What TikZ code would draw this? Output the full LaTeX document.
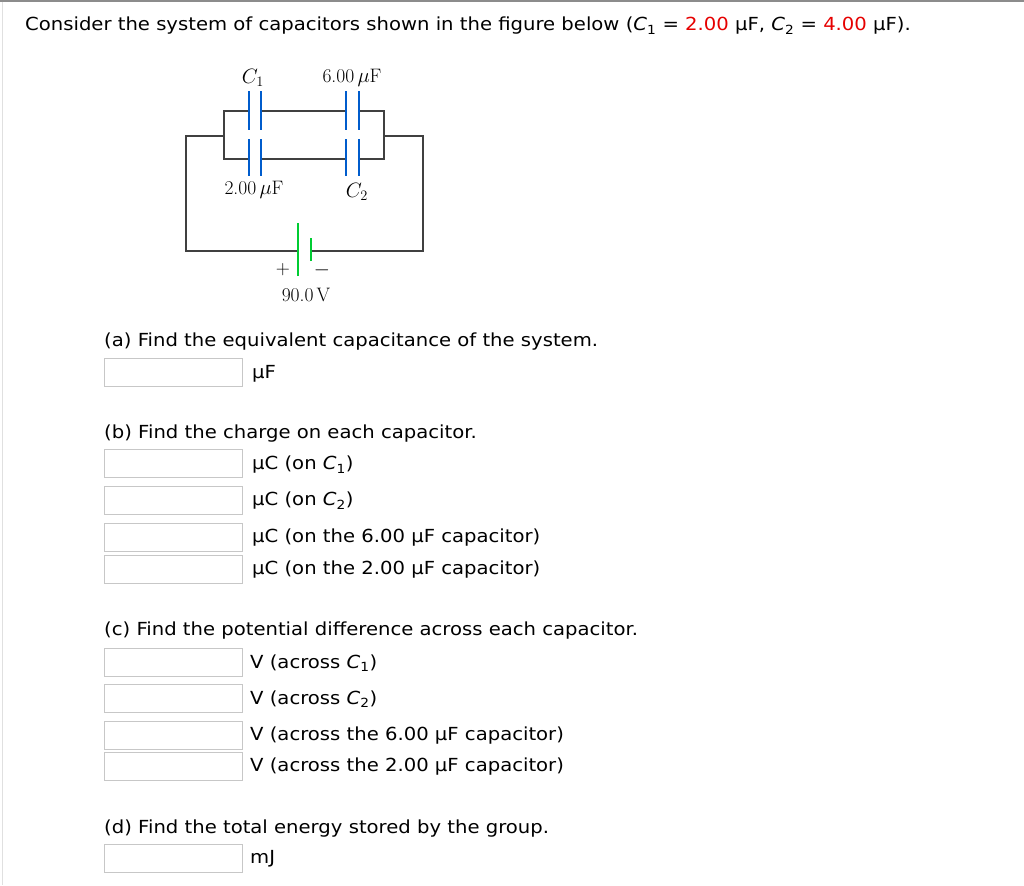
\documentclass[tikz,border=0pt]{standalone}
\usepackage{fontspec}
\setmainfont{DejaVu Sans}[FakeStretch=1.09]
\newfontfamily\cirf{Latin Modern Roman}
\begin{document}
\begin{tikzpicture}[x=1pt,y=-1pt,
  txt/.style={anchor=west,inner sep=0pt,font=\fontsize{18}{20}\selectfont},
  lab/.style={inner sep=0pt,font=\cirf\fontsize{19.5}{21}\selectfont},
  box/.style={draw=black!22,line width=1pt,minimum width=138pt,minimum height=28pt,anchor=north west,inner sep=0pt},
  wire/.style={draw=black!75,line width=1.2pt},
  cplate/.style={draw=blue!55!cyan!80!black,line width=2.2pt},
  bplate/.style={draw=green!60!teal,line width=2.2pt}]
\definecolor{qred}{RGB}{230,0,0}
\useasboundingbox (0,0) rectangle (1024,885);
\fill[white] (0,0) rectangle (1024,885);
\draw[black!45,line width=2pt] (0,1) -- (1024,1);
\draw[black!12,line width=1pt] (2,2) -- (2,885);
\node[txt] (title) at (25,26) {Consider the system of capacitors shown in the figure below (\textit{C}\textsubscript{1} = \textcolor{qred}{2.00} μF, \textit{C}\textsubscript{2} = \textcolor{qred}{4.00} μF).};
% circuit coordinates
\coordinate (iTL) at (224,111); \coordinate (iTR) at (384,111);
\coordinate (iBL) at (224,159); \coordinate (iBR) at (384,159);
\coordinate (iLm) at (224,136); \coordinate (iRm) at (384,136);
\coordinate (oTL) at (186,136); \coordinate (oTR) at (423,136);
\coordinate (oBL) at (186,251); \coordinate (oBR) at (423,251);
\coordinate (a1) at (249,111); \coordinate (a2) at (261,111);
\coordinate (b1) at (346,111); \coordinate (b2) at (359,111);
\coordinate (c1) at (249,159); \coordinate (c2) at (261,159);
\coordinate (d1) at (346,159); \coordinate (d2) at (359,159);
\coordinate (e1) at (298,251); \coordinate (e2) at (311,251);
\draw[wire] (a1) -- (iTL) -- (iBL) -- (c1);
\draw[wire] (a2) -- (b1); \draw[wire] (c2) -- (d1);
\draw[wire] (b2) -- (iTR) -- (iBR) -- (d2);
\draw[wire] (iLm) -- (oTL) -- (oBL) -- (e1);
\draw[wire] (iRm) -- (oTR) -- (oBR) -- (e2);
\foreach \p in {a1,a2,b1,b2}{\draw[cplate] ([yshift=-19]\p) -- ([yshift=20]\p);}
\foreach \p in {c1,c2,d1,d2}{\draw[cplate] ([yshift=-17]\p) -- ([yshift=20]\p);}
\draw[bplate] ([yshift=-25]e1) -- ([yshift=28]e1);
\draw[bplate] ([yshift=-10]e2) -- ([yshift=13]e2);
\node[lab] (lC1) at (253,78) {$C_1$};
\node[lab] (l6) at (352,78) {6.00\,$\mu$F};
\node[lab] (l2) at (254,190) {2.00\,$\mu$F};
\node[lab] (lC2) at (357,192) {$C_2$};
\node[lab] (lp) at (283,270) {+};
\node[lab] (lm) at (322,270) {$-$};
\node[lab] (lV) at (306,295) {90.0\,V};
% questions
\node[txt] (qa) at (104,342) {(a) Find the equivalent capacitance of the system.};
\node[box] (ba) at (104,358) {}; \node[txt] (ua) at (252,374) {μF};
\node[txt] (qb) at (104,434) {(b) Find the charge on each capacitor.};
\node[box] (bb1) at (104,449) {}; \node[txt] at (252,465) {μC (on \textit{C}\textsubscript{1})};
\node[box] (bb2) at (104,486) {}; \node[txt] at (252,501) {μC (on \textit{C}\textsubscript{2})};
\node[box] (bb3) at (104,523) {}; \node[txt] at (252,538) {μC (on the 6.00 μF capacitor)};
\node[box] (bb4) at (104,555) {}; \node[txt] at (252,570) {μC (on the 2.00 μF capacitor)};
\node[txt] (qc) at (104,631) {(c) Find the potential difference across each capacitor.};
\node[box] (bc1) at (104,648) {}; \node[txt] at (250,663) {V (across \textit{C}\textsubscript{1})};
\node[box] (bc2) at (104,684) {}; \node[txt] at (250,699) {V (across \textit{C}\textsubscript{2})};
\node[box] (bc3) at (104,721) {}; \node[txt] at (250,736) {V (across the 6.00 μF capacitor)};
\node[box] (bc4) at (104,752) {}; \node[txt] at (250,767) {V (across the 2.00 μF capacitor)};
\node[txt] (qd) at (104,829) {(d) Find the total energy stored by the group.};
\node[box] (bd) at (104,844) {}; \node[txt] (ud) at (250,859) {mJ};
\end{tikzpicture}
\end{document}
